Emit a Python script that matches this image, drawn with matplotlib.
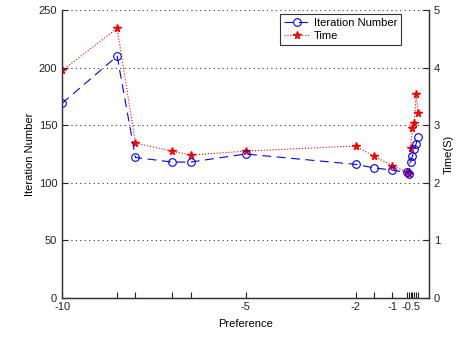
import matplotlib
matplotlib.use("Agg")
import matplotlib.pyplot as plt

plt.rcParams['font.family'] = ['Liberation Sans', 'DejaVu Sans']

preference = [-10, -8.5, -8, -7, -6.5, -5, -2, -1.5, -1,
              -0.6, -0.55, -0.5, -0.45, -0.4, -0.35, -0.3]
iterations = [169, 210, 122, 118, 118, 125, 116, 113, 111,
              109, 108, 118, 123.5, 129, 134, 140]
times = [3.95, 4.68, 2.69, 2.55, 2.48, 2.55, 2.64, 2.46, 2.30,
         2.19, 2.16, 2.60, 2.95, 3.04, 3.54, 3.22]
tick_labels = {-10: '-10', -5: '-5', -2: '-2', -1: '-1', -0.5: '-0.5'}

fig = plt.figure(figsize=(4.74, 3.37), dpi=100)
ax = fig.add_axes([0.131, 0.1157, 0.774, 0.8546])
ax2 = ax.twinx()

l1, = ax.plot(preference, iterations, color='#0000ff', linestyle=(0, (8, 5)),
              linewidth=0.8, marker='o', markersize=5.5, markerfacecolor='none',
              markeredgecolor='#0000ff', markeredgewidth=0.8, label='Iteration Number')
l2, = ax2.plot(preference, times, color='#ff0000', linestyle=':', linewidth=0.8,
               marker='*', markersize=5.5, markerfacecolor='#ff0000',
               markeredgecolor='#ff0000', label='Time')

ax.set_xlim(-10, 0)
ax.set_ylim(0, 250)
ax2.set_ylim(0, 5)
ax.set_yticks([0, 50, 100, 150, 200, 250])
ax2.set_yticks([0, 1, 2, 3, 4, 5])
ax.set_xticks(preference)
ax.set_xticklabels([tick_labels.get(p, '') for p in preference])

for a in (ax, ax2):
    a.tick_params(direction='in', length=4, width=0.8, labelsize=8, colors='#222222')
    a.spines['top'].set_visible(False)
    for s in ('left', 'right', 'bottom'):
        a.spines[s].set_color('#333333')
        a.spines[s].set_linewidth(0.9)
ax.tick_params(axis='x', pad=3)

ax.yaxis.grid(True, linestyle=(0, (1, 3)), color='#333333', linewidth=0.8)
ax.set_axisbelow(True)

ax.set_xlabel('Preference', fontsize=8, labelpad=5)
ax.set_ylabel('Iteration Number', fontsize=8, labelpad=3)
ax2.set_ylabel('Time(S)', fontsize=8, labelpad=3)

leg = ax.legend(handles=[l1, l2], loc='upper right', bbox_to_anchor=(0.924, 0.986),
                borderaxespad=0, fontsize=8, frameon=True, fancybox=False, framealpha=1,
                edgecolor='#333333', handlelength=2.4, borderpad=0.35,
                labelspacing=0.3, handletextpad=0.3)
leg.get_frame().set_linewidth(0.8)
ax.set_zorder(ax2.get_zorder() + 1)
ax.patch.set_visible(False)

fig.savefig('out.png', dpi=100)
